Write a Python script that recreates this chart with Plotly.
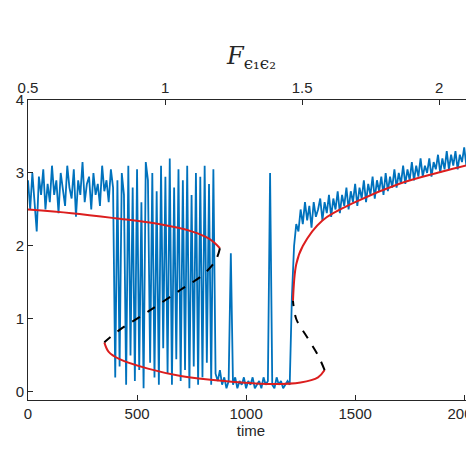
import numpy as np
import plotly.graph_objects as go

# simulated signal, sampled every 10 time units
time = np.arange(0, 2050, 10)
signal = [
    # 0-390
    2.9, 2.5, 3.0, 2.6, 2.2, 2.95, 2.7, 3.05, 2.5, 2.85,
    2.6, 3.1, 2.7, 2.9, 2.45, 3.0, 2.75, 2.55, 3.1, 2.8,
    2.65, 3.05, 2.4, 2.9, 2.7, 3.15, 2.6, 2.85, 2.95, 2.5,
    3.0, 2.7, 2.85, 2.55, 3.1, 2.75, 2.9, 2.6, 3.05, 2.8,
    # 400-880
    0.2, 2.9, 0.35, 3.0, 2.7, 0.1, 3.1, 0.5, 2.8, 0.15,
    3.05, 0.3, 2.6, 0.05, 3.15, 2.9, 0.4, 3.0, 0.2, 2.75,
    0.1, 3.1, 0.6, 2.95, 0.25, 3.2, 0.1, 2.8, 0.45, 3.05,
    0.15, 2.9, 0.3, 3.1, 0.05, 2.7, 0.35, 3.0, 0.1, 2.95,
    0.2, 3.1, 0.4, 2.85, 0.1, 3.05, 0.25, 0.15, 0.3,
    # 890-1230
    0.1, 0.2, 0.05, 0.15, 1.9, 0.1, 0.2, 0.05, 0.15, 0.1,
    0.2, 0.05, 0.15, 0.1, 0.2, 0.05, 0.1, 0.15, 0.05, 0.2,
    0.1, 0.15, 3.0, 0.1, 0.05, 0.2, 0.1, 0.15, 0.05, 0.1,
    0.15, 0.1, 1.3, 2.0, 2.3,
    # 1240-2040
    2.2, 2.5, 2.3, 2.6, 2.35, 2.55, 2.25, 2.6, 2.4, 2.5,
    2.65, 2.35, 2.6, 2.45, 2.7, 2.4, 2.65, 2.5, 2.75, 2.45,
    2.7, 2.55, 2.8, 2.5, 2.75, 2.6, 2.85, 2.55, 2.8, 2.65,
    2.9, 2.6, 2.85, 2.7, 2.95, 2.65, 2.9, 2.75, 2.95, 2.7,
    3.0, 2.75, 2.95, 2.8, 3.05, 2.8, 3.0, 2.85, 3.1, 2.85,
    3.05, 2.9, 3.15, 2.9, 3.1, 2.95, 3.2, 2.95, 3.1, 3.0,
    3.2, 2.95, 3.15, 3.05, 3.25, 3.0, 3.2, 3.05, 3.3, 3.05,
    3.25, 3.1, 3.3, 3.05, 3.25, 3.15, 3.35, 3.1, 3.3, 3.15,
    3.3,
]

# bifurcation branches (time, value)
upper_t = [0, 200, 400, 600, 750, 830, 880]
upper_y = [2.5, 2.45, 2.38, 2.3, 2.2, 2.1, 1.97]
mid1_t = [880, 860, 800, 700, 550, 420, 350]
mid1_y = [1.97, 1.8, 1.6, 1.4, 1.1, 0.85, 0.68]
lower_t = [350, 370, 420, 550, 700, 900, 1100, 1250, 1330, 1360]
lower_y = [0.68, 0.55, 0.45, 0.32, 0.22, 0.15, 0.11, 0.13, 0.2, 0.3]
mid2_t = [1360, 1330, 1280, 1230, 1215]
mid2_y = [0.3, 0.5, 0.75, 1.0, 1.25]
right_t = [1215, 1230, 1260, 1350, 1500, 1700, 1900, 2045]
right_y = [1.25, 1.75, 2.0, 2.35, 2.6, 2.85, 3.02, 3.13]

t_max = 2045
f_per_time = 1 / 1257.0
red = 'rgb(220,30,30)'

fig = go.Figure()
fig.add_trace(go.Scatter(x=time, y=signal, mode='lines',
                         line=dict(color='#0072BD', width=1.8)))
for tx, ty in [(upper_t, upper_y), (lower_t, lower_y), (right_t, right_y)]:
    fig.add_trace(go.Scatter(x=tx, y=ty, mode='lines',
                             line=dict(color=red, width=2, shape='spline')))
for tx, ty in [(mid1_t, mid1_y), (mid2_t, mid2_y)]:
    fig.add_trace(go.Scatter(x=tx, y=ty, mode='lines',
                             line=dict(color='black', width=2, dash='dash', shape='spline')))
fig.add_trace(go.Scatter(x=[0.5, 2.0], y=[None, None], xaxis='x2', showlegend=False))

font = dict(family='Liberation Sans, Arial', size=15, color='#262626')
axis_common = dict(showline=True, linecolor='#262626', linewidth=1, ticks='inside',
                   ticklen=5, tickcolor='#262626', showgrid=False, zeroline=False,
                   tickfont=font, automargin=False)
fig.update_layout(
    width=474, height=474, showlegend=False,
    plot_bgcolor='white', paper_bgcolor='white',
    margin=dict(l=20, r=8, t=92, b=82, autoexpand=False),
    xaxis=dict(range=[0, t_max], tickvals=[0, 500, 1000, 1500, 2000],
               title=dict(text='time', font=font, standoff=2), **axis_common),
    xaxis2=dict(range=[0.5, 0.5 + t_max * f_per_time], overlaying='x', side='top',
                tickvals=[0.5, 1, 1.5, 2], ticktext=['0.5', '1', '1.5', '2'],
                **axis_common),
    yaxis=dict(range=[-0.11, 4], tickvals=[0, 1, 2, 3, 4], mirror=True, **axis_common),
)
fig.add_annotation(text='<i>F</i><sub>ϵ₁ϵ₂</sub>', x=0.5, y=1, xref='paper', yref='paper',
                   yshift=60, showarrow=False,
                   font=dict(family='DejaVu Serif, serif', size=24, color='#262626'))
fig.write_html("out.html")
